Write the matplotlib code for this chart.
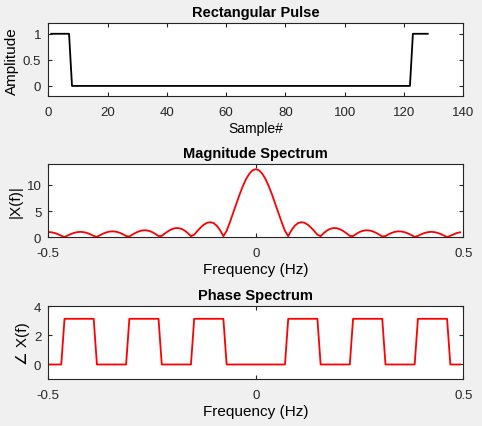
import numpy as np
import matplotlib
matplotlib.use('Agg')
import matplotlib.pyplot as plt

plt.rcParams['font.family'] = ['Liberation Sans', 'DejaVu Sans']

# rectangular pulse, 128 samples (MATLAB style 1-based index)
pulse = [1] * 7 + [0] * 115 + [1] * 6
sample_idx = np.arange(1, len(pulse) + 1)

N = len(pulse)
X = np.fft.fftshift(np.fft.fft(pulse))
freq = np.arange(-N // 2, N // 2) / N
mag = np.abs(X)
phase = np.angle(X.real + 0j)

bg = '#f0f0f0'
axcol = '#262626'
fig = plt.figure(figsize=(4.82, 4.27), dpi=100, facecolor=bg)


def style(ax):
    ax.tick_params(direction='in', top=True, right=True, length=3,
                   labelsize=9.5, colors=axcol)
    ax.tick_params(axis='x', pad=7)
    ax.tick_params(axis='y', pad=5)
    for s in ax.spines.values():
        s.set_color(axcol)
        s.set_linewidth(0.8)


ax1 = fig.add_axes([0.1002, 0.772, 0.861, 0.171])
ax1.plot(sample_idx, pulse, color='k', lw=1.3)
ax1.set_xlim(0, 140)
ax1.set_ylim(-0.2, 1.2)
ax1.set_xticks(range(0, 141, 20))
ax1.set_yticks([0, 0.5, 1])
ax1.set_yticklabels(['0', '0.5', '1'])
ax1.set_title('Rectangular Pulse', fontsize=10.5, fontweight='bold', pad=5)
ax1.set_xlabel('Sample#', fontsize=10, labelpad=2)
ax1.set_ylabel('Amplitude', fontsize=11, labelpad=3)
style(ax1)

ax2 = fig.add_axes([0.1002, 0.442, 0.861, 0.1717])
ax2.plot(freq, mag, color='r', lw=1.3)
ax2.set_xlim(-0.5, 0.5)
ax2.set_ylim(0, 14)
ax2.set_xticks([-0.5, 0, 0.5])
ax2.set_xticklabels(['-0.5', '0', '0.5'])
ax2.set_yticks([0, 5, 10])
ax2.set_title('Magnitude Spectrum', fontsize=10.5, fontweight='bold', pad=5)
ax2.set_xlabel('Frequency (Hz)', fontsize=11, labelpad=2)
ax2.set_ylabel('|X(f)|', fontsize=11, labelpad=3)
style(ax2)

ax3 = fig.add_axes([0.1002, 0.110, 0.861, 0.1703])
ax3.plot(freq, phase, color='r', lw=1.3)
ax3.set_xlim(-0.5, 0.5)
ax3.set_ylim(-1, 4)
ax3.set_xticks([-0.5, 0, 0.5])
ax3.set_xticklabels(['-0.5', '0', '0.5'])
ax3.set_yticks([0, 2, 4])
ax3.set_title('Phase Spectrum', fontsize=10.5, fontweight='bold', pad=5)
ax3.set_xlabel('Frequency (Hz)', fontsize=11, labelpad=2)
ax3.set_ylabel('\u2220 X(f)', fontsize=11, labelpad=3)
style(ax3)

fig.savefig('out.png', dpi=100, facecolor=bg)
